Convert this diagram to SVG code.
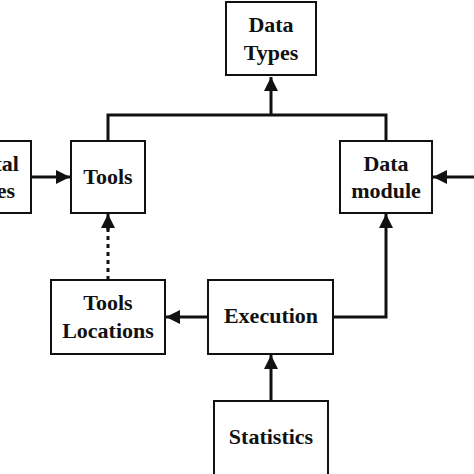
<svg xmlns="http://www.w3.org/2000/svg" width="474" height="474" viewBox="0 0 474 474">
<defs>
<style>
.box{fill:#fff;stroke:#111;stroke-width:2}
.t{font-family:"Liberation Serif","Times New Roman",serif;font-weight:bold;font-size:22px;fill:#111;text-anchor:middle}
.c{fill:none;stroke:#111;stroke-width:3}
.d{stroke-dasharray:4 4}
</style>
<marker id="ah" markerUnits="userSpaceOnUse" markerWidth="14" markerHeight="14" viewBox="0 0 14 14" refX="14" refY="7" orient="auto">
<path d="M0,0 L14,7 L0,14 Z" fill="#111"/>
</marker>
</defs>
<rect width="474" height="474" fill="#fff"/>
<g id="connectors">
<path class="c" d="M108,141 V115 H386 V141"/>
<path class="c" d="M271,115 V77" marker-end="url(#ah)"/>
<path class="c" d="M31,177 H70" marker-end="url(#ah)"/>
<path class="c" d="M474,177 H433" marker-end="url(#ah)"/>
<path class="c d" d="M108,280 V228"/>
<path class="c" d="M108,230 V214" marker-end="url(#ah)"/>
<path class="c" d="M208,317 H166" marker-end="url(#ah)"/>
<path class="c" d="M333,317 H386 V214" marker-end="url(#ah)"/>
<path class="c" d="M271,401 V355" marker-end="url(#ah)"/>
</g>
<g id="data-types">
<rect class="box" x="226" y="2" width="90" height="73"/>
<text class="t" x="271" y="32">Data</text>
<text class="t" x="271" y="60">Types</text>
</g>
<g id="left-node">
<rect class="box" x="-10" y="141" width="41" height="72"/>
<text class="t" x="19" y="171" style="text-anchor:end">tal</text>
<text class="t" x="15" y="198" style="text-anchor:end">es</text>
</g>
<g id="tools">
<rect class="box" x="71" y="141" width="74" height="72"/>
<text class="t" x="108" y="184">Tools</text>
</g>
<g id="data-module">
<rect class="box" x="340" y="141" width="92" height="72"/>
<text class="t" x="386" y="171">Data</text>
<text class="t" x="386" y="198">module</text>
</g>
<g id="tools-locations">
<rect class="box" x="51" y="280" width="114" height="74"/>
<text class="t" x="108" y="310">Tools</text>
<text class="t" x="108" y="338">Locations</text>
</g>
<g id="execution">
<rect class="box" x="208" y="280" width="125" height="74"/>
<text class="t" x="271" y="323">Execution</text>
</g>
<g id="statistics">
<rect class="box" x="214" y="401" width="114" height="80"/>
<text class="t" x="271" y="444">Statistics</text>
</g>
</svg>
